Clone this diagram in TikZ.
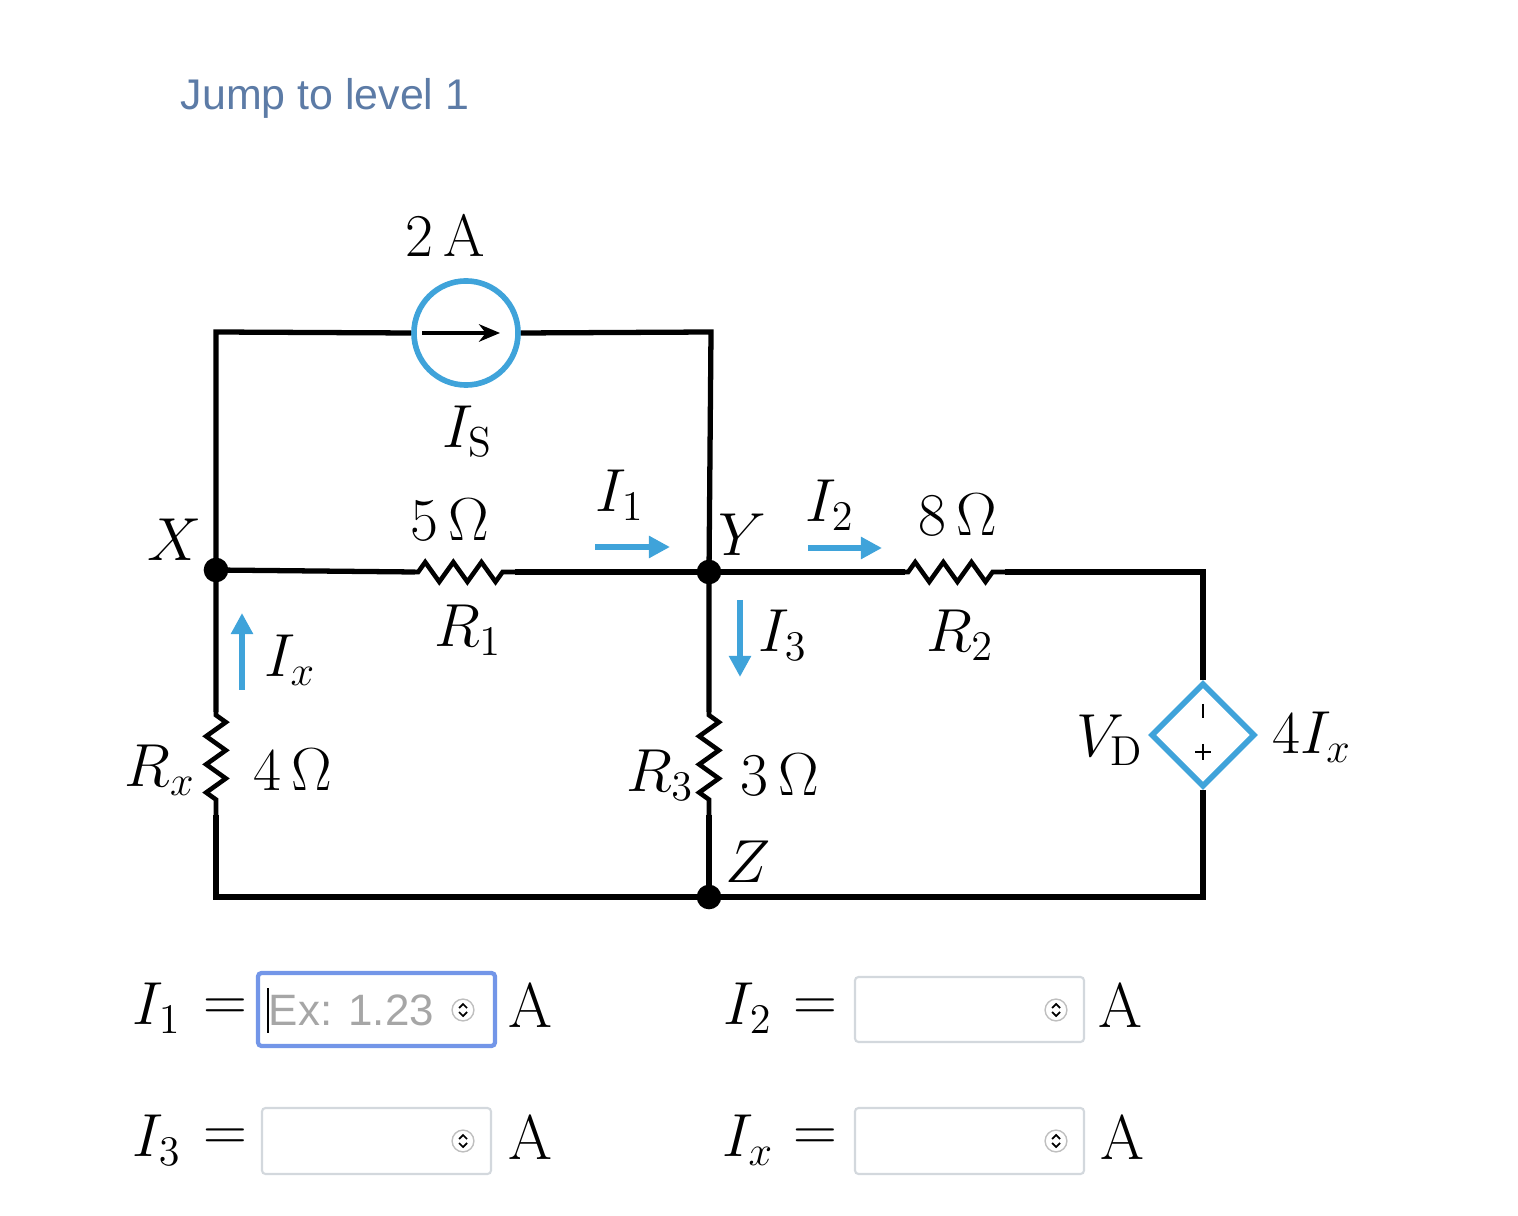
\documentclass[tikz,border=0pt]{standalone}
\usepackage{fontspec}
\setsansfont{Liberation Sans}
\usetikzlibrary{decorations.pathmorphing,arrows.meta,shapes.geometric}
\definecolor{cblue}{HTML}{3FA3DA}
\definecolor{jblue}{HTML}{5C7BA6}
\definecolor{boxgray}{HTML}{D3D8DD}
\definecolor{hl}{HTML}{7396E8}
\tikzset{
 wire/.style={line width=1.5pt},
 res/.style={line width=1.3pt,decorate,decoration={zigzag,segment length=8pt,amplitude=2.8pt,pre length=0.9pt,post length=0.9pt}},
 dot/.style={circle,fill=black,inner sep=0pt,minimum size=7pt},
 lab/.style={font=\fontsize{17}{20}\selectfont},
 cur/.style={cblue,line width=1.5pt,-{Triangle[length=6pt,width=6pt]}},
 ibox/.style={draw=boxgray,line width=0.6pt,rounded corners=1pt},
}
\begin{document}
\begin{tikzpicture}[x=0.01cm,y=-0.01cm]
\useasboundingbox (0,0) rectangle (1518,1216);
\node[font=\sffamily\fontsize{12.2}{15}\selectfont,text=jblue,anchor=west,inner sep=0pt] (jump) at (180,98) {Jump to level 1};
% nodes
\node[dot] (X) at (216,570) {};
\node[dot] (Y) at (709,572) {};
\node[dot] (Z) at (709,897) {};
\coordinate (TL) at (216,332); \coordinate (TR) at (711,332);
\coordinate (BL) at (216,897); \coordinate (BR) at (1203,897);
\coordinate (MR) at (1203,572);
\node[circle,draw=cblue,line width=1.6pt,minimum size=29.6pt,inner sep=0pt] (IS) at (466,333) {};
\node[diamond,draw=cblue,line width=1.6pt,minimum size=29.6pt,inner sep=0pt] (VD) at (1203,735) {};
% wires
\draw[wire] (IS.west) -- (TL) -- (X.center) -- (216,712);
\draw[wire] (216,815) -- (BL) -- (BR) -- (VD.south);
\draw[wire] (IS.east) -- (TR) -- (Y.center) -- (709,712);
\draw[wire] (709,815) -- (Z.center);
\draw[wire] (X.center) -- (415,572); \draw[wire] (515,572) -- (Y.center) -- (905,572);
\draw[wire] (1005,572) -- (MR) -- (VD.north);
% resistors
\draw[res] (415,572) -- (515,572);
\draw[res] (905,572) -- (1005,572);
\draw[res] (216,712) -- (216,815);
\draw[res] (709,712) -- (709,815);
% source internals
\draw[line width=0.9pt,-{Stealth[length=6pt,width=5pt]}] (422,333) -- (500,333);
\draw[line width=0.7pt] (1203,704) -- (1203,718);
\draw[line width=0.7pt] (1195,752) -- (1211,752) (1203,744) -- (1203,760);
% current arrows
\draw[cur] (595,547) -- (670,547);
\draw[cur] (808,548) -- (882,548);
\draw[cur] (740,600) -- (740,677);
\draw[cur] (242,690) -- (242,613);
% labels
\node[lab] (l2A) at (445,235) {$2\,\mathrm{A}$};
\node[lab] (lIs) at (468,432) {$I_{\mathrm{S}}$};
\node[lab] (lX) at (175,540) {$X$};
\node[lab] (l5) at (450,520) {$5\,\Omega$};
\node[lab] (lR1) at (468,630) {$R_1$};
\node[lab] (lI1) at (620,495) {$I_1$};
\node[lab] (lY) at (742,535) {$Y$};
\node[lab] (lI2) at (830,505) {$I_2$};
\node[lab] (l8) at (958,515) {$8\,\Omega$};
\node[lab] (lR2) at (960,635) {$R_2$};
\node[lab] (lI3) at (783,635) {$I_3$};
\node[lab] (lIx) at (290,660) {$I_x$};
\node[lab] (lRx) at (160,770) {$R_x$};
\node[lab] (l4) at (293,770) {$4\,\Omega$};
\node[lab] (lR3) at (660,775) {$R_3$};
\node[lab] (l3) at (780,775) {$3\,\Omega$};
\node[lab] (lZ) at (748,862) {$Z$};
\node[lab] (lVD) at (1110,740) {$V_{\mathrm{D}}$};
\node[lab] (l4Ix) at (1312,737) {$4I_x$};
% form
\tikzset{fl/.style={font=\fontsize{18}{21}\selectfont}}
\node[fl] (f1) at (157,1008) {$I_1$}; \node[fl] at (225,1010) {$=$};
\draw[hl,line width=1.2pt,rounded corners=1pt] (258,973) rectangle (495,1046);
\draw[line width=0.5pt] (268,988) -- (268,1033);
\node[font=\sffamily\fontsize{12.5}{15}\selectfont,text=gray!70,anchor=west,inner sep=0pt] (ex) at (268,1010) {Ex: 1.23};
\node[fl] at (530,1005) {A};
\node[fl] (f2) at (748,1008) {$I_2$}; \node[fl] at (815,1010) {$=$};
\draw[ibox] (855,977) rectangle (1084,1042);
\node[fl] at (1120,1005) {A};
\node[fl] (f3) at (157,1140) {$I_3$}; \node[fl] at (225,1140) {$=$};
\draw[ibox] (262,1108) rectangle (491,1174);
\node[fl] at (530,1137) {A};
\node[fl] (f4) at (748,1140) {$I_x$}; \node[fl] at (815,1140) {$=$};
\draw[ibox] (855,1108) rectangle (1084,1174);
\node[fl] at (1122,1137) {A};
% spinners
\foreach \sx/\sy in {463/1010,1056/1010,463/1141,1056/1141}{
 \draw[gray!50,line width=0.4pt] (\sx,\sy) circle[radius=3.1pt];
 \draw[line width=0.5pt] (\sx-4,\sy-2) -- (\sx,\sy-6) -- (\sx+4,\sy-2);
 \draw[line width=0.5pt] (\sx-4,\sy+2) -- (\sx,\sy+6) -- (\sx+4,\sy+2);
}
\end{tikzpicture}
\end{document}
